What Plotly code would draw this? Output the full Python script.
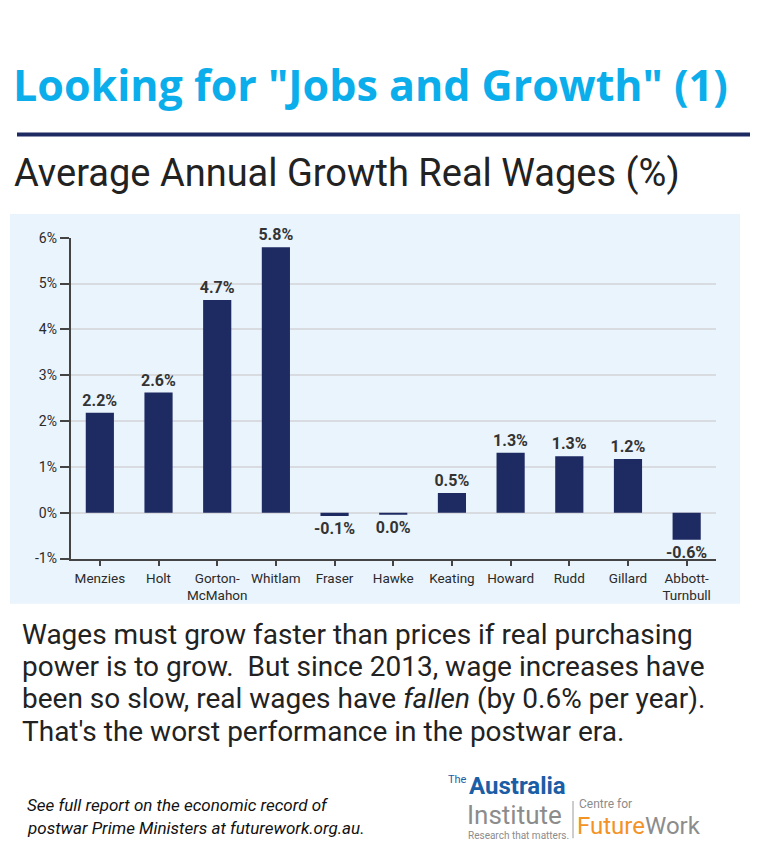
import plotly.graph_objects as go

W, H = 768, 861

categories = ["Menzies", "Holt", "Gorton-<br>McMahon", "Whitlam", "Fraser", "Hawke",
              "Keating", "Howard", "Rudd", "Gillard", "Abbott-<br>Turnbull"]
growth = [2.18, 2.62, 4.64, 5.79, -0.07, -0.03, 0.43, 1.31, 1.23, 1.17, -0.59]
value_labels = ["2.2%", "2.6%", "4.7%", "5.8%", "-0.1%", "0.0%", "0.5%", "1.3%", "1.3%", "1.2%", "-0.6%"]
y_ticks = [-1, 0, 1, 2, 3, 4, 5, 6]
y_tick_labels = ["-1%", "0%", "1%", "2%", "3%", "4%", "5%", "6%"]

paragraph = [
    "Wages must grow faster than prices if real purchasing",
    "power is to grow.  But since 2013, wage increases have",
    "been so slow, real wages have <i>fallen</i> (by 0.6% per year).",
    "That's the worst performance in the postwar era.",
]
footer = [
    "See full report on the economic record of",
    "postwar Prime Ministers at futurework.org.au.",
]

def px(x):
    return x / W

def py(y):
    return 1 - y / H

NAVY = "#1E2A62"
PANEL = "#EAF4FC"
FONT = "Roboto, sans-serif"

fig = go.Figure(go.Bar(
    x=categories, y=growth, text=value_labels, textposition="outside",
    marker=dict(color=NAVY, line=dict(width=0)), width=0.48,
    textfont=dict(family=FONT, size=16, color="#333333", weight="bold"),
    constraintext="none", cliponaxis=False, hoverinfo="skip",
))

fig.update_layout(
    width=W, height=H, margin=dict(l=0, r=0, t=0, b=0),
    paper_bgcolor="white", plot_bgcolor=PANEL, showlegend=False,
    xaxis=dict(domain=[px(70.5), px(716)], showline=True, linecolor="#444444", linewidth=1.5,
               ticks="outside", ticklen=6, tickcolor="#444444", tickwidth=1.5, tickangle=0,
               tickfont=dict(family=FONT, size=13.5, color="#2a2a2a"), fixedrange=True),
    yaxis=dict(domain=[py(561), py(234)], range=[-1, 6], tickvals=y_ticks, ticktext=y_tick_labels,
               showline=True, linecolor="#444444", linewidth=1.5, ticks="outside", ticklen=9,
               tickcolor="#444444", tickwidth=1.5, showgrid=True, gridcolor="#D8DCE0", gridwidth=1.5,
               zeroline=False, tickfont=dict(family=FONT, size=14, color="#2a2a2a"), fixedrange=True),
)

shapes = [
    dict(type="rect", xref="paper", yref="paper", x0=px(10), x1=px(740), y0=py(607), y1=py(210),
         fillcolor=PANEL, line=dict(width=0), layer="below"),
    dict(type="line", xref="paper", yref="paper", x0=px(17), x1=px(750), y0=py(129), y1=py(129),
         line=dict(color=NAVY, width=4)),
    dict(type="line", xref="paper", yref="paper", x0=px(573), x1=px(573), y0=py(808), y1=py(846),
         line=dict(color="#9A9A9A", width=1)),
]

ann = []
def add(text, x, y, size, color, family="Roboto", xanchor="left", yanchor="middle", **kw):
    ann.append(dict(text=text, x=px(x), y=py(y), xref="paper", yref="paper", showarrow=False,
                    xanchor=xanchor, yanchor=yanchor,
                    font=dict(size=size, color=color, family=family, **kw)))

add('Looking for "Jobs and Growth" (1)', 11, 78, 43, "#0BAEEB", family="Open Sans", weight="bold")
add("Average Annual Growth Real Wages (%)", 12, 168, 38, "#222222", family="Roboto")
for i, line in enumerate(paragraph):
    add(line, 20, 638 + i * 33, 28, "#222222", family="Roboto")
for i, line in enumerate(footer):
    add(line, 25, 812 + i * 24, 17, "#111111", family="Roboto", style="italic")

add("The", 446, 786, 11, "#1B5EA6", family=FONT)
add("Australia", 467, 793, 24, "#1B5EA6", family=FONT, weight="bold")
add("Institute", 465, 822, 26, "#8C8C8C", family=FONT)
add("Research that matters.", 466, 843, 10, "#8C8C8C", family=FONT)
add("Centre for", 577, 811, 12, "#8C8C8C", family=FONT)
add("<span style='color:#F39325'>Future</span>Work", 575, 833, 24, "#8C8C8C", family=FONT)

fig.update_layout(shapes=shapes, annotations=ann)
fig.write_html("out.html")
